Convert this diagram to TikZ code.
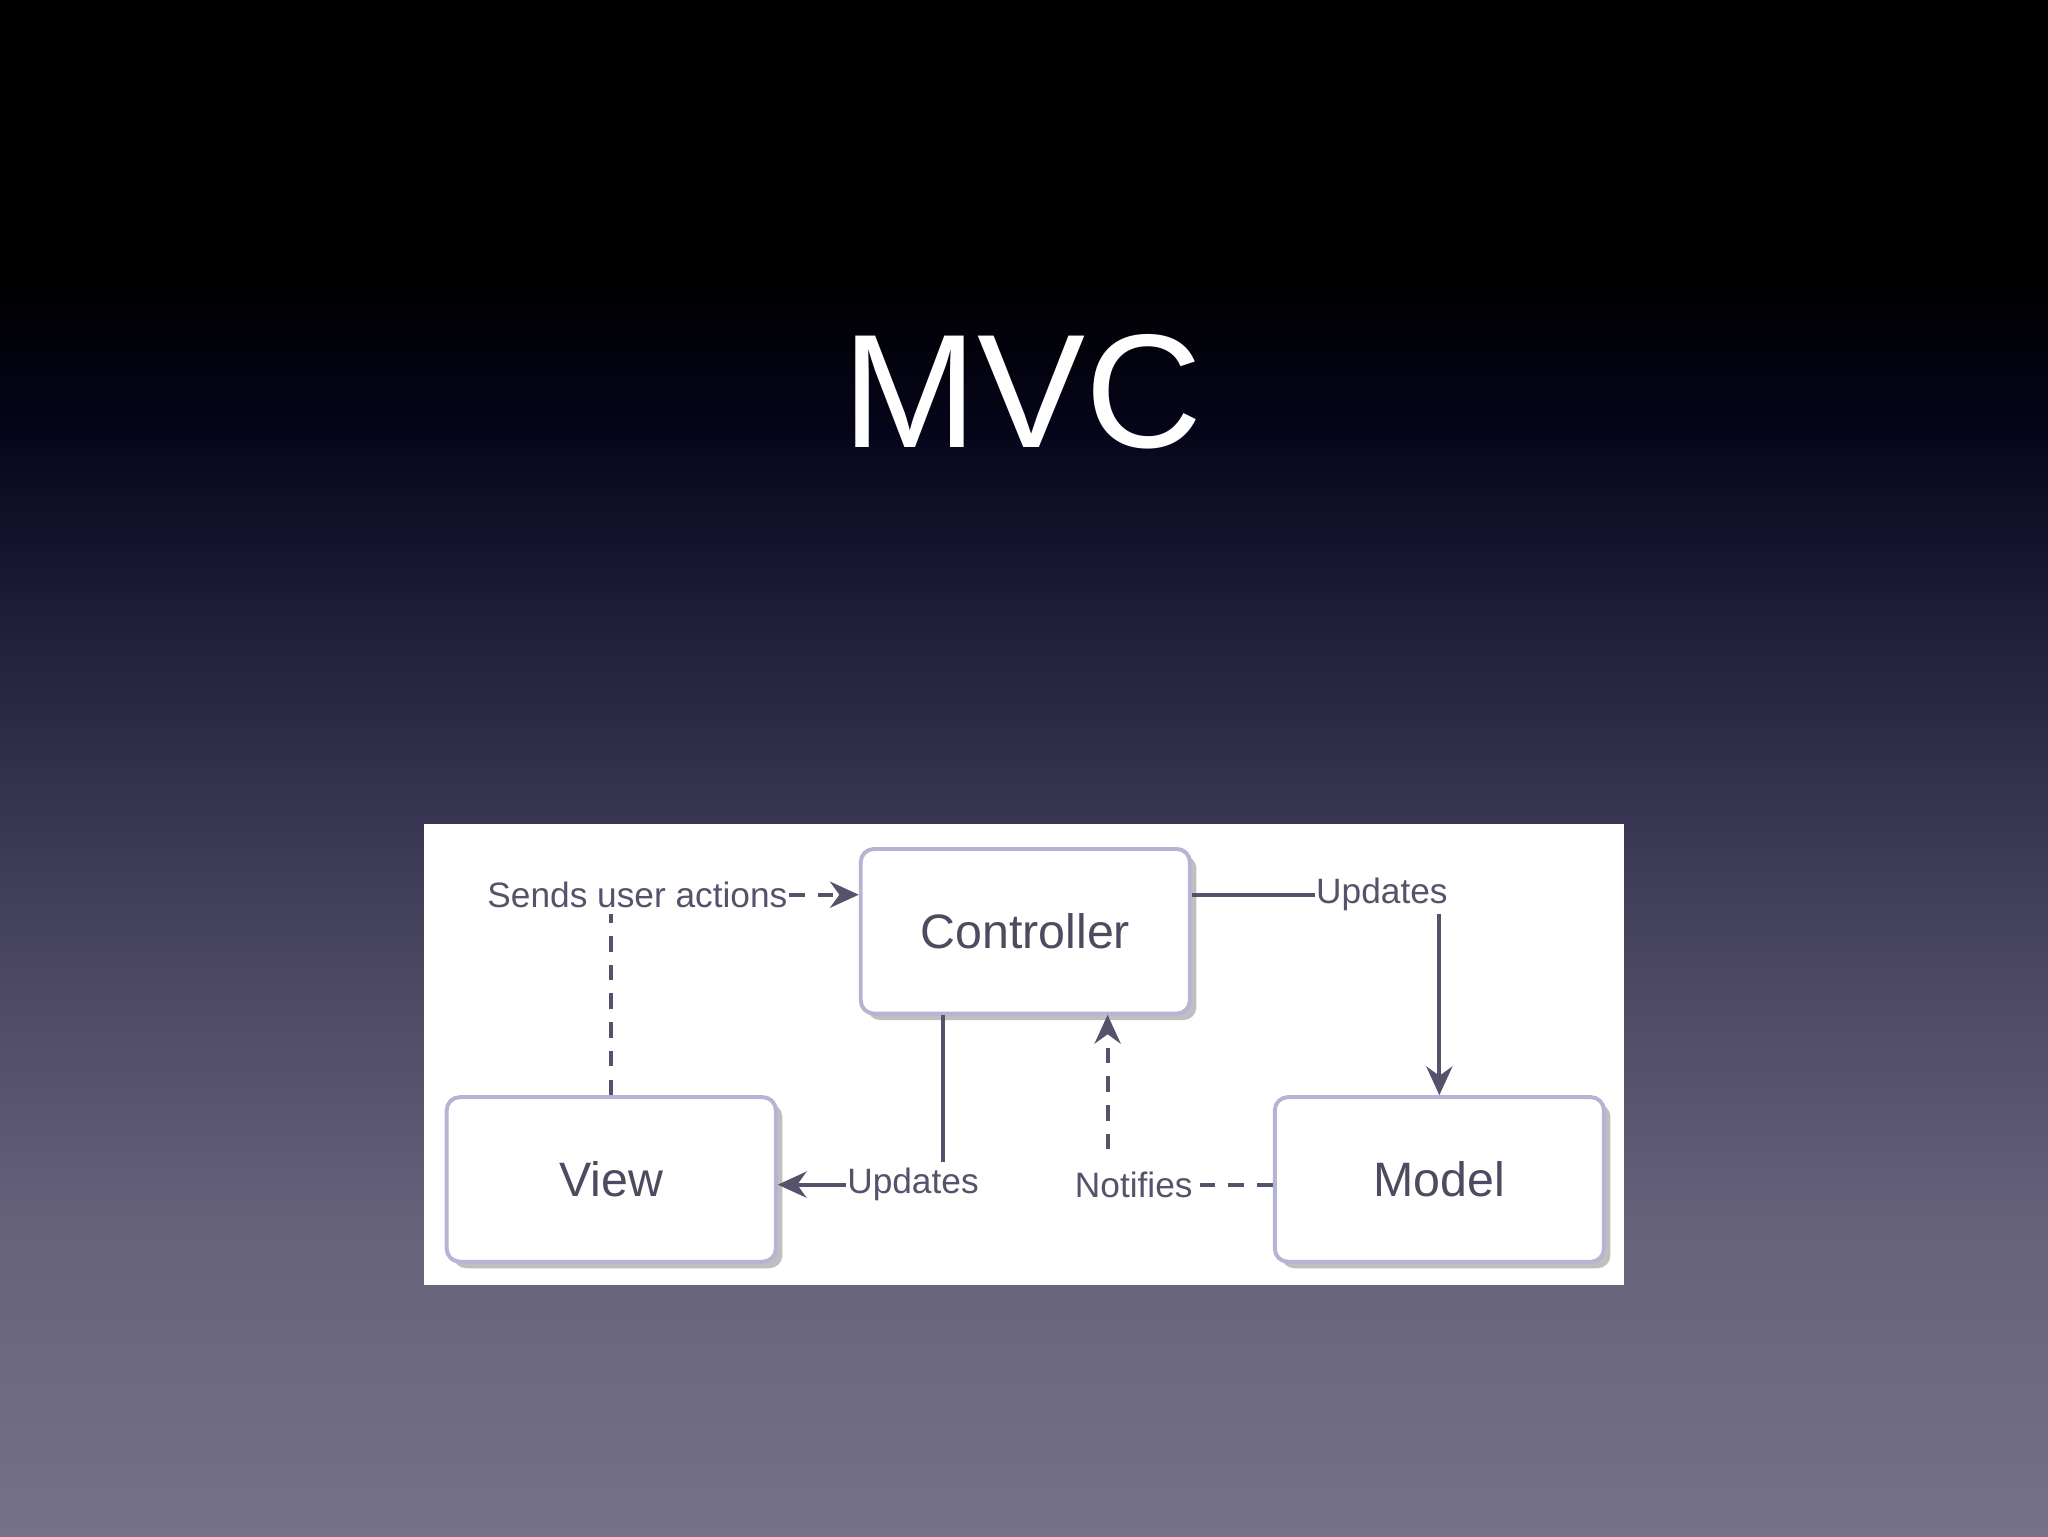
\documentclass[tikz,border=0pt]{standalone}
\usepackage{fontspec}
\setmainfont{Liberation Sans}
\usetikzlibrary{arrows.meta,shadows}
\definecolor{ln}{HTML}{55536B}
\definecolor{bd}{HTML}{B4B4D4}
\definecolor{ga}{HTML}{76718A}
\definecolor{gb}{HTML}{66627C}
\definecolor{gc}{HTML}{45425E}
\definecolor{gd}{HTML}{1E1D3A}
\definecolor{ge}{HTML}{05051A}
\pgfdeclareverticalshading{bgshade}{100bp}{
 color(0bp)=(ga);
 color(25bp)=(ga);
 color(35bp)=(gb);
 color(45bp)=(gc);
 color(55bp)=(gd);
 color(61bp)=(ge);
 color(66bp)=(black);
 color(100bp)=(black)}
\begin{document}
\begin{tikzpicture}[x=1pt,y=-1pt,
 box/.style={draw=bd,line width=3pt,rounded corners=10pt,fill=white,minimum width=252pt,minimum height=126pt,font=\fontsize{37}{40}\selectfont,text=ln!90!black,
  drop shadow={shadow xshift=5pt,shadow yshift=-5pt,fill=black!25,opacity=1}},
 lab/.style={font=\fontsize{27}{28}\selectfont,text=ln,inner sep=1pt},
 con/.style={draw=ln,line width=3pt},
 dsh/.style={con,dash pattern=on 12pt off 10pt},
 tip/.style={-{Stealth[length=22pt,width=20pt]}}]
\shade[shading=bgshade] (0,0) rectangle (1568,1176);
\useasboundingbox (0,0) rectangle (1568,1176);
\node[text=white,font=\fontsize{124}{124}\selectfont] (title) at (783,300) {MVC};
\fill[white] (325,631) rectangle (1243,984);
\node[box] (ctrl) at (785,713) {Controller};
\node[box] (view) at (468,903) {View};
\node[box] (model) at (1102,903) {Model};
\node[lab] (send) at (488,685) {Sends user actions};
\node[lab] (upd1) at (1058,685) {Updates};
\node[lab] (upd2) at (699,907) {Updates};
\node[lab] (noti) at (868,907) {Notifies};
\draw[dsh] (view.north) -- (468,700);
\draw[dsh,tip] (send.east) -- (ctrl.west |- send.east);
\draw[con] (ctrl.east |- upd1.west) -- (upd1.west);
\draw[con,tip] (1102,700) -- (model.north);
\draw[con] (722,777) -- (722,890);
\draw[con,tip] (upd2.west) -- (view.east |- upd2.west);
\draw[dsh] (model.west |- noti.east) -- (noti.east);
\draw[dsh,tip] (848,880) -- (848,777);
\end{tikzpicture}
\end{document}
